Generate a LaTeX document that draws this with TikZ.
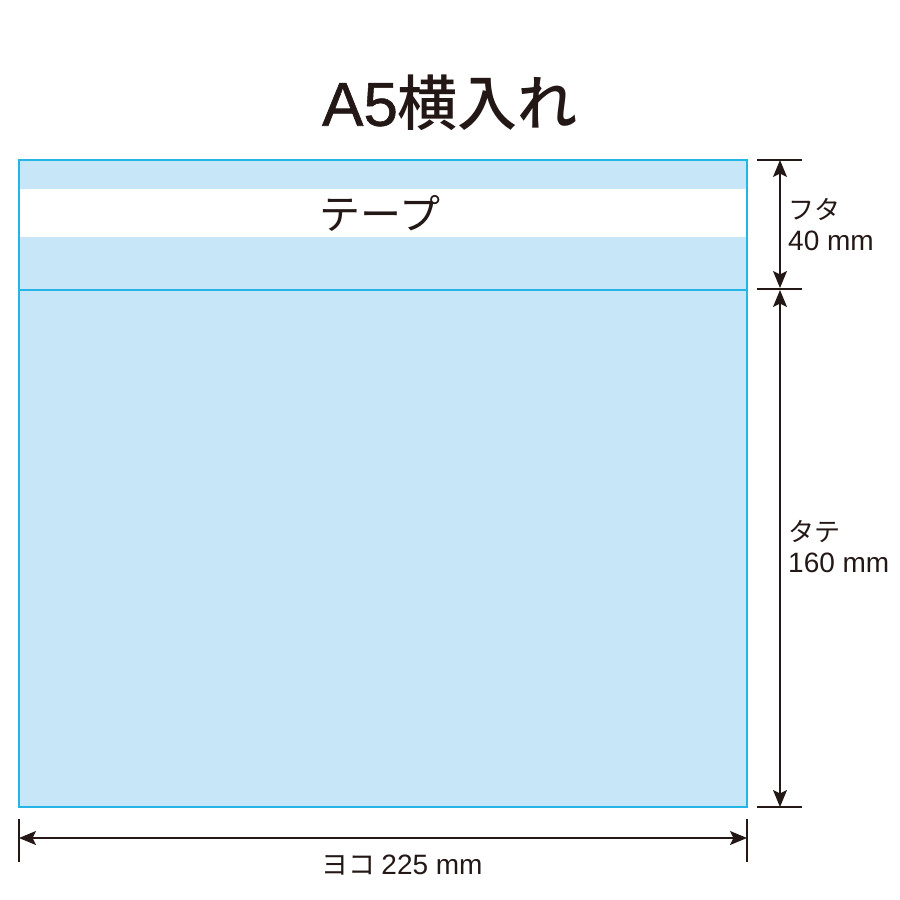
\documentclass[tikz,border=0pt]{standalone}
\usepackage{fontspec}
\setmainfont{Noto Sans CJK JP}
\newfontfamily\jpbold{Noto Sans CJK JP Medium}
\newfontfamily\latn{Liberation Sans}
\newfontfamily\latnmed[FakeBold=0.9]{Liberation Sans}
\usetikzlibrary{arrows.meta}
\definecolor{bagfill}{HTML}{C7E6F8}
\definecolor{bagedge}{HTML}{22B5E6}
\definecolor{dimink}{HTML}{231815}
\tikzset{
  dimline/.style={draw=dimink, line width=1.4pt, {Stealth[length=17pt,width=14pt,inset=3.5pt]}-{Stealth[length=17pt,width=14pt,inset=3.5pt]}},
  tickline/.style={draw=dimink, line width=1.4pt},
  lbl/.style={text=dimink, font=\fontsize{26}{31}\selectfont, align=left, inner sep=0pt, anchor=west},
}
\begin{document}
\begin{tikzpicture}[x=1pt,y=-1pt]
\useasboundingbox (0,0) rectangle (900,900);
% title
\node[text=dimink, inner sep=0pt] (title) at (450,103) {{\latnmed\fontsize{62}{64}\selectfont A5}{\jpbold\fontsize{60}{64}\selectfont 横入れ}};
% bag
\fill[bagfill] (19,160) rectangle (747,807);
\fill[white] (19,189) rectangle (747,237);
\draw[bagedge, line width=2pt] (19,160) rectangle (747,807);
\draw[bagedge, line width=2pt] (19,290) -- (747,290);
\node[text=dimink, font=\fontsize{41}{44}\selectfont, inner sep=0pt] (tape) at (380,213) {テープ};
% right dims
\coordinate (t1a) at (757,160); \coordinate (t1b) at (802,160);
\coordinate (t2a) at (757,289); \coordinate (t2b) at (802,289);
\coordinate (t3a) at (757,807); \coordinate (t3b) at (802,807);
\draw[tickline] (t1a) -- (t1b);
\draw[tickline] (t2a) -- (t2b);
\draw[tickline] (t3a) -- (t3b);
\coordinate (f1) at (780,160); \coordinate (f2) at (780,288);
\coordinate (h1) at (780,290); \coordinate (h2) at (780,807);
\draw[dimline] (f1) -- (f2);
\draw[dimline] (h1) -- (h2);
\node[lbl] (flap) at (788,225) {フタ\\{\latn\fontsize{28}{31}\selectfont 40 mm}};
\node[lbl] (tate) at (788,547) {タテ\\{\latn\fontsize{28}{31}\selectfont 160 mm}};
% bottom dim
\coordinate (b1a) at (19,819); \coordinate (b1b) at (19,862);
\coordinate (b2a) at (747,819); \coordinate (b2b) at (747,862);
\draw[tickline] (b1a) -- (b1b);
\draw[tickline] (b2a) -- (b2b);
\coordinate (w1) at (19,838); \coordinate (w2) at (747,838);
\draw[dimline] (w1) -- (w2);
\node[text=dimink, font=\fontsize{27}{29}\selectfont, inner sep=0pt] (yoko) at (402,865) {ヨコ {\latn\fontsize{28}{30}\selectfont 225 mm}};
\end{tikzpicture}
\end{document}
